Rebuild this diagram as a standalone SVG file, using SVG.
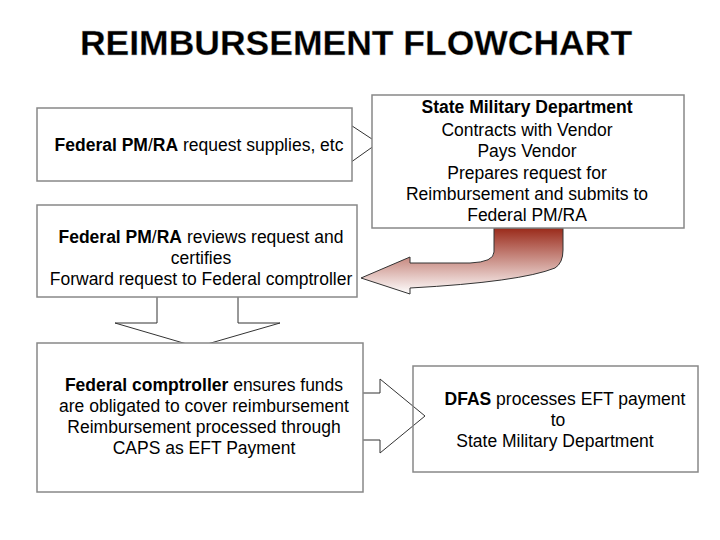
<svg xmlns="http://www.w3.org/2000/svg" width="720" height="540" viewBox="0 0 720 540">
<style>
.box{fill:#fff;stroke:#888;stroke-width:1.5}
.t{font-family:"Liberation Sans",Arial,sans-serif;font-size:17.5px;fill:#000;text-anchor:middle}
.b{font-weight:bold}
.arr{fill:#fff;stroke:#333;stroke-width:1}
</style>
<defs>
<linearGradient id="g" x1="0" y1="0" x2="0" y2="1">
<stop offset="0" stop-color="#9a2a1a"/>
<stop offset="1" stop-color="#fff"/>
</linearGradient>
</defs>
<rect width="720" height="540" fill="#fff"/>
<text x="356" y="55" font-family="Liberation Sans,Arial,sans-serif" font-size="35.5" font-weight="bold" text-anchor="middle" fill="#000" stroke="#bbb" stroke-width="0.3">REIMBURSEMENT FLOWCHART</text>
<g id="connectors">
<path class="arr" d="M340,118 L378,143 L340,170 Z"/>
<path class="arr" d="M157,296 L157,323 L115,323 L197,347 L280,323 L238,323 L238,296"/>
<path class="arr" d="M362,393 L380,393 L380,379 L425,416 L380,453 L380,440 L362,440"/>
<path d="M494,228 L494,252 Q494,262 470,263 L410,263 L410,257 L361,278 L410,294 L410,288 Q520,282 555,268 Q563,263 563,250 L563,228 Z" fill="url(#g)" stroke="#333" stroke-width="1"/>
</g>
<g id="n1"><rect class="box" x="37" y="108" width="315" height="73"/>
<text class="t" x="199" y="151"><tspan class="b">Federal PM</tspan>/<tspan class="b">RA</tspan> request supplies, etc</text></g>
<g id="n2"><rect class="box" x="372" y="95" width="312" height="133"/>
<text class="t" x="527" y="113"><tspan class="b">State Military Department</tspan></text>
<text class="t" x="527" y="136">Contracts with Vendor</text>
<text class="t" x="527" y="157">Pays Vendor</text>
<text class="t" x="527" y="179">Prepares request for</text>
<text class="t" x="527" y="200">Reimbursement and submits to</text>
<text class="t" x="527" y="221">Federal PM/RA</text></g>
<g id="n3"><rect class="box" x="37" y="205" width="320" height="92"/>
<text class="t" x="201" y="243"><tspan class="b">Federal PM</tspan>/<tspan class="b">RA</tspan> reviews request and</text>
<text class="t" x="201" y="264">certifies</text>
<text class="t" x="201" y="285">Forward request to Federal comptroller</text></g>
<g id="n4"><rect class="box" x="37" y="343" width="326" height="149"/>
<text class="t" x="204" y="391"><tspan class="b">Federal comptroller</tspan> ensures funds</text>
<text class="t" x="204" y="412">are obligated to cover reimbursement</text>
<text class="t" x="204" y="433">Reimbursement processed through</text>
<text class="t" x="204" y="454">CAPS as EFT Payment</text></g>
<g id="n5"><rect class="box" x="413" y="366" width="285" height="106" fill-opacity="0"/>
<text class="t" x="565" y="405"><tspan class="b">DFAS</tspan> processes EFT payment</text>
<text class="t" x="558" y="426">to</text>
<text class="t" x="555" y="447">State Military Department</text></g>
</svg>
